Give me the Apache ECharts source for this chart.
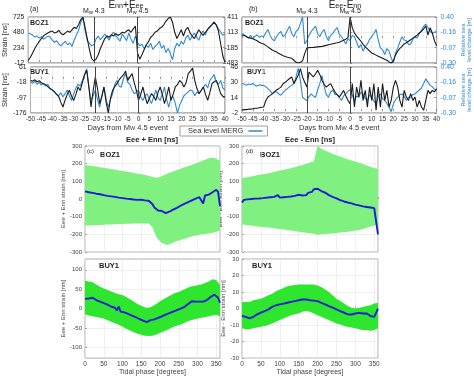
<!DOCTYPE html>
<html>
<head>
<meta charset="utf-8">
<script src="https://cdn.jsdelivr.net/npm/echarts@6/dist/echarts.min.js"></script>
<style>
html,body{margin:0;padding:0;background:#fff;}
#main{width:474px;height:377px;}
</style>
</head>
<body>
<div id="main"></div>
<script>
var FONT = '"Liberation Sans", Arial, sans-serif';

// ---- top panels: days from the Mw 4.5 event ----
var days = [-50,-49,-48,-47,-46,-45,-44,-43,-42,-41,-40,-39,-38,-37,-36,-35,-34,-33,-32,-31,
  -30,-29,-28,-27,-26,-25,-24,-23,-22,-21,-20,-19,-18,-17,-16,-15,-14,-13,-12,-11,
  -10,-9,-8,-7,-6,-5,-4,-3,-2,-1,0,1,2,3,4,5,6,7,8,9,10,11,12,13,14,15,16,17,18,19,
  20,21,22,23,24,25,26,27,28,29,30,31,32,33,34,35,36,37,38,39,40];

// (a) Enn+Eee
var aBozStrain = [30,80,150,220,280,330,380,420,450,470, 490,500,470,480,510,460,440,470,500,480,
  520,560,540,600,680,725,560,380,200,60, 20,50,120,220,300,380,420,400,440,420,
  460,430,450,480,470,500,520,480,530,580, 150,50,120,200,280,330,400,430,480,500,
  540,560,600,660,700,725,640,480,380,450, 520,420,520,560,470,420,380,450,520,470,
  430,480,520,570,600,640,600,500,300,100, 0];
var aBozSea = [100,80,60,20,40,0,30,-20,10,40, 20,-40,-80,-50,-120,-150,-100,-60,-130,-90,
  -160,-40,60,150,300,411,150,-50,-100,-150, -130,-20,40,-30,20,80,30,-40,60,120,
  50,0,-60,80,20,-50,100,-20,-100,40, -80,-150,-120,-200,-140,-180,-100,-220,-160,-120,
  -60,-200,-140,-280,-200,-300,-420,-200,-100,-160, -60,-120,0,60,-40,40,100,20,-40,80,
  140,60,180,200,260,320,250,180,120,60, 80];
var aBuyStrain = [-8,-12,-5,-15,-10,-20,-25,-30,-40,-50, -57,-65,-80,-90,-120,-145,-110,-80,-59,-90,
  -111,-80,-42,-60,-20,20,44,-40,-145,-60, 9,-50,-128,-90,-42,-120,-176,-100,-59,-40,
  -25,-5,9,20,40,-8,10,27,-20,-60, -111,-80,-42,-90,-128,-100,-76,-90,-111,-70,
  -42,-80,-128,-90,-42,-111,-80,-42,-30,-8, -20,-42,-20,27,40,55,-8,-50,-76,-60,
  -42,-80,-111,-70,-25,-15,-8,-40,-76,-90, -94];
var aBuySea = [30,29,31,28,30,27,29,26,28,24, 22,20,18,16,19,15,18,22,16,11,
  18,24,28,26,32,38,44,25,11,16, 22,12,4,15,25,12,4,12,18,28,
  32,26,25,34,39,30,28,22,18,20, 22,15,11,16,18,12,8,15,22,14,
  11,18,25,12,4,14,15,8,-2,6, 11,16,18,20,22,21,16,20,18,22,
  25,28,24,32,35,38,30,28,32,24, 22];

// (b) Eee-Enn
var bBozStrain = [62,50,30,10,0,-10,-30,-50,-80,-100, -113,-140,-170,-200,-230,-252,-270,-300,-320,-340,
  -357,-370,-380,-392,-430,-470,-483,-470,-440,-300, -190,-185,-182,-180,-175,-170,-165,-160,-150,-140,
  -130,-120,-110,-100,-90,-78,-60,-40,-20,10, 411,200,100,40,-10,-60,-120,-170,-210,-250,
  -287,-310,-330,-350,-370,-392,-410,-430,-462,-483, -440,-330,-252,-200,-160,-113,-90,-60,-30,0,
  27,60,100,132,180,237,60,202,100,-50, -150];
var bBozSea = [0.15,0.13,0.10,0.08,0.12,0.07,0.10,0.13,0.09,0.11, 0.10,0.16,0.21,0.12,0.06,0.04,0.10,0.15,0.18,0.10,
  0.13,0.20,0.26,0.15,0.10,0.18,0.21,0.30,0.40,-0.01, 0.04,0.12,0.18,0.22,0.26,0.15,0.10,0.17,0.21,0.10,
  0.04,0.12,0.15,0.20,0.24,0.14,0.10,0.05,-0.01,0.07, 0.04,0.12,0.10,0.02,-0.07,-0.02,-0.12,-0.05,-0.01,0.06,
  0.10,0.15,0.21,0.05,-0.07,-0.10,-0.17,-0.08,-0.12,-0.22, -0.30,-0.15,-0.07,0.02,0.10,0.05,0.04,-0.02,-0.01,0.06,
  0.10,0.08,0.15,0.20,0.26,0.29,0.24,0.18,0.15,0.17, 0.18];
var bBuyStrain = [0.8,1.5,1.5,2,2,2.5,3,3,3.5,4, 4.2,11,14.7,16.4,18,20,22,23.4,25,28.6,
  30,32,34,35.6,28.6,33,37.3,44.3,35.6,30, 25,40.8,38,35.6,39,42.5,38,32,28,25,
  27,28.6,24,19.9,17,14.7,18,21.6,16,11.2, 7.7,28.6,4.2,25,14.7,32,11.2,21.6,4.2,25,
  11.2,28.6,0.8,25,4.2,28.6,11.2,21.6,4.2,11.2, 25,32,25,11.2,4.2,21.6,14.7,11.2,18.2,11.2,
  14.7,4.2,11.2,4.2,0.8,11.2,21.6,18.2,21.6,19.9, 23.4];
var bBuySea = [0.15,0.14,0.12,0.14,0.13,0.15,0.12,0.11,0.13,0.12, 0.12,0.10,0.07,0.04,-0.01,0.02,0.02,-0.01,-0.03,0.01,
  0.05,0.07,0.10,0.12,0.15,0.25,0.38,0.20,-0.06,-0.09, -0.11,-0.05,-0.01,-0.04,-0.06,0.05,0.15,0.27,0.10,-0.02,
  -0.06,0.02,0.05,-0.02,-0.01,-0.06,-0.11,-0.04,-0.01,0.03, 0.05,-0.03,-0.11,-0.04,-0.06,0.02,-0.01,-0.08,-0.11,-0.02,
  -0.06,-0.12,-0.16,-0.05,-0.01,-0.08,-0.11,-0.15,-0.21,-0.28, -0.16,-0.10,-0.06,-0.02,-0.01,-0.05,-0.11,-0.06,-0.06,-0.02,
  -0.01,0.02,0.05,0.08,0.15,0.22,0.17,0.12,0.10,0.06, 0.05];

// tick labels of the top panels
var bozStrainTicksA = [725, 480, 234, -12];
var bozStrainTicksB = [411, 113, -185, -483];
var buyStrainTicksA = [61, -18, -97, -176];
var buyStrainTicksB = [46, 30, 14, -2];
var seaTickVals = [0.40, 0.1667, -0.0667, -0.30];
var seaTickLabels = ['0.40', '-0.16', '-0.07', '-0.30'];
var events = [-20, 0];
var eventNames = ['M{s|w} 4.3', 'M{s|w} 4.5'];

// ---- bottom panels: tidal phase ----
var phase10 = [0,10,20,30,40,50,60,70,80,90,100,110,120,130,140,150,160,170,180,
  190,200,210,220,230,240,250,260,270,280,290,300,310,320,330,340,350,360];
var phase5 = [0,5,10,15,20,25,30,35,40,45,50,55,60,65,70,75,80,85,90,95,100,105,110,115,120,
  125,130,135,140,145,150,155,160,165,170,175,180,185,190,195,200,205,210,215,220,225,230,
  235,240,245,250,255,260,265,270,275,280,285,290,295,300,305,310,315,320,325,330,335,340,
  345,350,355,360];

var cBozUp = [192,190,187,184,180,177,173,170,166,162,158,155,151,147,143,140,136,132,125,
  120,125,135,145,152,160,167,175,182,190,197,205,213,222,230,235,228,215];
var cBozLo = [-150,-150,-149,-148,-147,-146,-145,-144,-143,-142,-141,-140,-140,-139,-139,-138,-138,-138,-160,
  -215,-240,-255,-260,-252,-242,-235,-228,-222,-215,-210,-205,-200,-198,-195,-192,-185,-178];
var cBozLine = [43,48,38,45,35,40,30,33,27,30, 22,25,18,20,15,18,12,14,8,12,
  5,9,2,6,0,5,-3,2,-5,0, -4,-2,-8,-5,-10,-12,-30,-48,-55,-65,
  -70,-68,-78,-80,-75,-72,-65,-60,-55,-50, -42,-38,-32,-28,-22,-18,-12,-8,-2,2,
  6,10,14,-25,20,22,25,30,38,45, 52,40,-40];

var dBozUp = [118,122,126,130,134,138,142,146,150,155,160,165,170,175,180,187,193,200,206,212,
  300,285,275,265,255,248,240,232,225,218,212,205,198,190,183,176,170];
var dBozLo = [-145,-147,-150,-152,-155,-157,-160,-162,-164,-167,-170,-173,-176,-179,-182,-185,-188,-191,-194,-197,
  -202,-200,-198,-196,-194,-192,-190,-188,-186,-183,-180,-176,-170,-163,-156,-150,-145];
var dBozLine = [-20,-5,-15,-2,-8,0,-6,2,-4,3, -2,5,0,8,2,10,4,12,6,22,
  8,14,10,18,12,20,14,10,18,12, 24,16,20,18,22,35,30,40,55,62,
  58,50,45,40,36,30,22,18,12,8, 4,-2,-6,-10,-14,-16,-20,-18,-25,-28,
  -32,-30,-36,-38,-42,-40,-45,-44,-48,-50, -52,-55,-200];

var cBuyUp = [72,70,68,62,56,52,48,44,40,37,35,30,24,18,12,7,3,2,6,12,19,24,30,35,40,43,47,52,56,58,
  60,62,66,70,76,74,60];
var cBuyLo = [-15,-18,-20,-22,-24,-26,-30,-34,-38,-42,-47,-52,-57,-61,-65,-68,-70,-71,-70,-67,-63,-59,-55,-50,
  -46,-43,-39,-35,-31,-28,-26,-24,-22,-20,-18,-16,-20];
var cBuyLine = [25,27,26,30,28,24,22,20,18,16, 14,12,10,7,5,3,2,-5,5,-8,
  -6,-10,-12,-14,-16,-18,-20,-22,-25,-27, -29,-31,-33,-35,-33,-30,-29,-28,-26,-24,
  -22,-20,-18,-16,-14,-12,-10,-8,-6,-4, -2,0,2,4,7,12,16,19,19,18,
  17,18,17,18,20,22,25,30,34,36, 33,28,15];

var dBuyUp = [4,4,4,5,5.5,6,7,8,9,10.5, 11.5,12.5,13.5,14,14.3,14.5,14.5,14.5,14.5,14.5,
  14,13,11.5,10,8,6,4.5,3,1.5,0.5, 0,0.5,1,1.5,2,3,3.5];
var dBuyLo = [-12,-12.5,-12.5,-12,-11.5,-11,-10.5,-10,-9,-8, -7,-6,-5,-4,-3.5,-3,-2,-1.5,-2,-3,
  -4,-5,-6,-7,-8,-9,-9.5,-10.5,-11,-11.5, -12,-12.5,-13,-13,-13.5,-13,-12];
var dBuyLine = [-4.5,-5,-5,-6,-6,-5.5,-5,-4.5,-3.5,-3, -2.5,-2,-1.5,-1,-0.5,0.5,1,0,2,1,
  2.5,2,3,2.5,3.5,3,4,3.5,4.5,4.5, 5,5,5.5,6,5.5,5.5,5,5.5,4.8,5.5,
  4.5,4,3.5,3,2.5,2,1.5,1,0.5,0, -0.5,-1,-1.5,-2,-2.5,-3,-3.5,-3.8,-3.6,-3.2,
  -3,-2.8,-2.6,-2.8,-3,-2.5,-3,-3.5,-4.5,-5.5, -5,-4,0];
var buyTicksC = [-100, -50, 0, 50, 100];

var BLACK = '#1a1a1a', SEA = '#2f8ad0', NAVY = '#1c1cd2';
var subRich = {s: {fontSize: 5.5, verticalAlign: 'bottom', fontFamily: FONT}};

function pairs(xs, ys) {
  var out = [];
  for (var i = 0; i < xs.length; i++) out.push([xs[i], ys[i]]);
  return out;
}

function dayAxis(gi, showLabels) {
  return {
    type: 'value', gridIndex: gi, min: -50, max: 40, interval: 5,
    axisLine: {show: false},
    axisTick: {show: true, inside: true, length: 2, lineStyle: {color: '#555', width: 0.6}},
    axisLabel: {show: showLabels, fontSize: 6.5, color: '#333', margin: 3, fontFamily: FONT},
    splitLine: {show: true, lineStyle: {color: '#e2e2e2', width: 0.6}},
    name: showLabels ? 'Days from M{s|W} 4.5 event' : '',
    nameLocation: 'middle', nameGap: 10,
    nameTextStyle: {fontSize: 7.5, color: '#333', fontFamily: FONT, rich: subRich}
  };
}

function topYAxis(gi, pos, min, max, ticks, opt) {
  opt = opt || {};
  return {
    type: 'value', gridIndex: gi, position: pos, min: min, max: max,
    axisLine: {show: false},
    axisTick: {show: true, inside: true, length: 2, customValues: ticks, lineStyle: {color: '#555', width: 0.6}},
    axisLabel: {
      show: opt.labels !== false, customValues: ticks, fontSize: 6.8, margin: 4,
      color: opt.color || '#222', fontFamily: FONT,
      formatter: opt.formatter || function (v) { return String(Math.round(v)); }
    },
    splitLine: {show: pos === 'left', lineStyle: {color: '#e2e2e2', width: 0.6}},
    name: opt.name || '', nameLocation: 'middle', nameGap: opt.nameGap || 16, nameRotate: 90,
    nameTextStyle: {fontSize: opt.nameSize || 7.5, color: opt.color || '#333', fontFamily: FONT,
      lineHeight: opt.lineHeight || 8}
  };
}

function seaFormatter(v) {
  var best = 0;
  for (var i = 1; i < seaTickVals.length; i++) {
    if (Math.abs(seaTickVals[i] - v) < Math.abs(seaTickVals[best] - v)) best = i;
  }
  return seaTickLabels[best];
}

function phaseAxis(gi, showLabels) {
  return {
    type: 'value', gridIndex: gi, min: 0, max: 360, interval: 50,
    axisLine: {show: false},
    axisTick: {show: true, inside: true, length: 2, lineStyle: {color: '#777', width: 0.6}},
    axisLabel: {show: showLabels, fontSize: 6.5, color: '#444', margin: 3, fontFamily: FONT},
    splitLine: {show: true, lineStyle: {color: '#e6e6e6', width: 0.6}},
    name: showLabels ? 'Tidal phase [degrees]' : '', nameLocation: 'middle', nameGap: 9,
    nameTextStyle: {fontSize: 7, color: '#444', fontFamily: FONT}
  };
}

function bottomYAxis(gi, min, max, interval, ticks, name) {
  var ax = {
    type: 'value', gridIndex: gi, min: min, max: max,
    axisLine: {show: false},
    axisTick: {show: true, inside: true, length: 2, lineStyle: {color: '#777', width: 0.6}},
    axisLabel: {fontSize: 6, color: '#444', margin: 3, fontFamily: FONT},
    splitLine: {show: true, lineStyle: {color: '#e6e6e6', width: 0.6}},
    name: name, nameLocation: 'middle', nameGap: 14, nameRotate: 90,
    nameTextStyle: {fontSize: 6, color: '#444', fontFamily: FONT}
  };
  if (ticks) {
    ax.axisLabel.customValues = ticks;
    ax.axisTick.customValues = ticks;
  } else {
    ax.interval = interval;
  }
  return ax;
}

function lineSeries(name, xi, yi, xs, ys, color, width, z) {
  return {
    type: 'line', name: name, xAxisIndex: xi, yAxisIndex: yi, data: pairs(xs, ys),
    showSymbol: false, symbol: 'none', z: z || 2,
    lineStyle: {color: color, width: width}, itemStyle: {color: color}
  };
}

function eventLines(withLabel) {
  var data = [];
  for (var i = 0; i < events.length; i++) {
    data.push({xAxis: events[i], label: {formatter: eventNames[i]}});
  }
  return {
    silent: true, symbol: ['none', 'none'], animation: false,
    lineStyle: {color: '#444', width: 1, type: 'solid'},
    label: {show: withLabel, position: 'end', distance: 2, fontSize: 7, color: '#222',
      fontFamily: FONT, rich: subRich},
    data: data
  };
}

// green band = polygon between upper and lower envelopes
function bandSeries(xi, yi, xs, up, lo, color) {
  return {
    type: 'custom', xAxisIndex: xi, yAxisIndex: yi, silent: true, z: 1,
    data: [[xs[0], lo[0]]],
    renderItem: function (params, api) {
      var pts = [];
      for (var i = 0; i < xs.length; i++) pts.push(api.coord([xs[i], up[i]]));
      for (var j = xs.length - 1; j >= 0; j--) pts.push(api.coord([xs[j], lo[j]]));
      return {type: 'polygon', shape: {points: pts}, style: {fill: color}};
    }
  };
}

function txt(x, y, text, size, opt) {
  opt = opt || {};
  return {
    type: 'text', x: x, y: y, silent: true,
    style: {
      text: text, fontSize: size, fontFamily: FONT, fontWeight: opt.bold ? 'bold' : 'normal',
      fill: opt.color || '#222', align: opt.align || 'left', verticalAlign: 'top',
      rich: {s: {fontSize: size * 0.72, verticalAlign: 'bottom', fontFamily: FONT, fill: opt.color || '#222'}}
    }
  };
}

var frameTop = {show: true, borderColor: '#444', borderWidth: 0.8, backgroundColor: '#fff'};
var frameBot = {show: true, borderColor: '#999', borderWidth: 0.8, backgroundColor: '#fff'};
var seaName = 'Relative sea\nlevel change [m]';

var chart = echarts.init(document.getElementById('main'));
chart.setOption({
  animation: false,
  textStyle: {fontFamily: FONT},
  legend: {
    data: ['Sea level MERG'], left: 180, top: 126, align: 'right', icon: 'rect',
    itemWidth: 14, itemHeight: 1.5, itemGap: 4, selectedMode: false,
    borderColor: '#888', borderWidth: 0.8, padding: [1, 5, 1, 8],
    textStyle: {fontSize: 7.5, color: '#333', fontFamily: FONT}
  },
  grid: [
    Object.assign({left: 28, top: 17, width: 197, height: 46}, frameTop),
    Object.assign({left: 28, top: 67, width: 197, height: 46}, frameTop),
    Object.assign({left: 242, top: 17, width: 202, height: 46}, frameTop),
    Object.assign({left: 242, top: 67, width: 202, height: 46}, frameTop),
    Object.assign({left: 85, top: 146, width: 135, height: 106}, frameBot),
    Object.assign({left: 242, top: 146, width: 136, height: 106}, frameBot),
    Object.assign({left: 85, top: 259, width: 135, height: 104}, frameBot),
    Object.assign({left: 242, top: 259, width: 136, height: 104}, frameBot)
  ],
  xAxis: [
    dayAxis(0, false), dayAxis(1, true), dayAxis(2, false), dayAxis(3, true),
    phaseAxis(4, false), phaseAxis(5, false), phaseAxis(6, true), phaseAxis(7, true)
  ],
  yAxis: [
    topYAxis(0, 'left', -12, 725, bozStrainTicksA, {name: 'Strain [ns]'}),
    topYAxis(0, 'right', -483, 411, bozStrainTicksB, {labels: false}),
    topYAxis(1, 'left', -176, 61, buyStrainTicksA, {name: 'Strain [ns]'}),
    topYAxis(1, 'right', -2, 46, buyStrainTicksB, {labels: false}),
    topYAxis(2, 'left', -483, 411, bozStrainTicksB, {}),
    topYAxis(2, 'right', -0.30, 0.40, seaTickVals, {color: SEA, formatter: seaFormatter,
      name: seaName, nameGap: 19, nameSize: 6, lineHeight: 6.5}),
    topYAxis(3, 'left', -2, 46, buyStrainTicksB, {}),
    topYAxis(3, 'right', -0.30, 0.40, seaTickVals, {color: SEA, formatter: seaFormatter,
      name: seaName, nameGap: 19, nameSize: 6, lineHeight: 6.5}),
    bottomYAxis(4, -300, 300, 100, null, 'Eee + Enn strain [nm]'),
    bottomYAxis(5, -300, 300, 100, null, 'Eee - Enn strain [nm]'),
    bottomYAxis(6, -128, 128, null, buyTicksC, 'Eee + Enn strain [nm]'),
    bottomYAxis(7, -30, 30, 10, null, 'Eee - Enn strain [nm]')
  ],
  series: [
    lineSeries('Sea level MERG', 0, 1, days, aBozSea, SEA, 1.1, 2),
    Object.assign(lineSeries('Strain', 0, 0, days, aBozStrain, BLACK, 1.1, 3), {markLine: eventLines(true)}),
    lineSeries('Sea level MERG', 1, 3, days, aBuySea, SEA, 1.1, 2),
    Object.assign(lineSeries('Strain', 1, 2, days, aBuyStrain, BLACK, 1.1, 3), {markLine: eventLines(false)}),
    lineSeries('Sea level MERG', 2, 5, days, bBozSea, SEA, 1.1, 2),
    Object.assign(lineSeries('Strain', 2, 4, days, bBozStrain, BLACK, 1.1, 3), {markLine: eventLines(true)}),
    lineSeries('Sea level MERG', 3, 7, days, bBuySea, SEA, 1.1, 2),
    Object.assign(lineSeries('Strain', 3, 6, days, bBuyStrain, BLACK, 1.1, 3), {markLine: eventLines(false)}),

    bandSeries(4, 8, phase10, cBozUp, cBozLo, '#80f080'),
    lineSeries('c BOZ1', 4, 8, phase5, cBozLine, NAVY, 1.9, 3),
    bandSeries(5, 9, phase10, dBozUp, dBozLo, '#80f080'),
    lineSeries('d BOZ1', 5, 9, phase5, dBozLine, NAVY, 1.9, 3),
    bandSeries(6, 10, phase10, cBuyUp, cBuyLo, '#2ee62e'),
    lineSeries('c BUY1', 6, 10, phase5, cBuyLine, NAVY, 1.9, 3),
    bandSeries(7, 11, phase10, dBuyUp, dBuyLo, '#2ee62e'),
    lineSeries('d BUY1', 7, 11, phase5, dBuyLine, NAVY, 1.9, 3)
  ],
  graphic: [
    txt(126, 0, 'E{s|nn}+E{s|ee}', 10, {align: 'center'}),
    txt(345, 0, 'E{s|ee}-E{s|nn}', 10, {align: 'center'}),
    txt(30, 6, '(a)', 7),
    txt(249, 6, '(b)', 7),
    txt(30, 20, 'BOZ1', 7, {bold: true}),
    txt(30, 69, 'BUY1', 7, {bold: true}),
    txt(245, 20, 'BOZ1', 7, {bold: true}),
    txt(247, 69, 'BUY1', 7, {bold: true}),
    txt(152, 136, 'Eee + Enn [ns]', 7.5, {bold: true, align: 'center'}),
    txt(310, 136, 'Eee - Enn [ns]', 7.5, {bold: true, align: 'center'}),
    txt(87, 148, '(c)', 6),
    txt(100, 151, 'BOZ1', 7.5, {bold: true}),
    txt(246, 148, '(d)', 6),
    txt(260, 151, 'BOZ1', 7.5, {bold: true}),
    txt(99, 262, 'BUY1', 7.5, {bold: true}),
    txt(252, 262, 'BUY1', 7.5, {bold: true})
  ]
});
</script>
</body>
</html>
